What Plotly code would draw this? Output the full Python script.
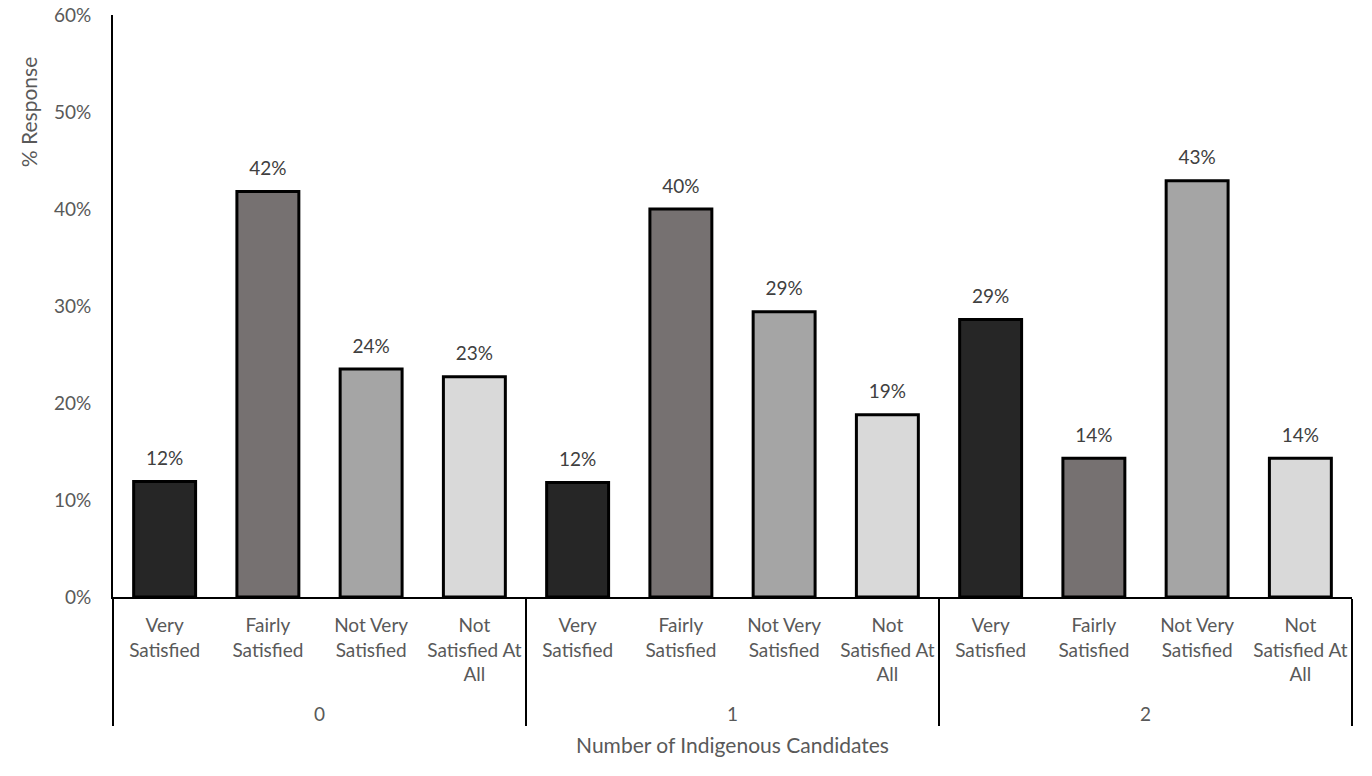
import plotly.graph_objects as go

groups = ["0", "1", "2"]
categories = ["Very<br>Satisfied", "Fairly<br>Satisfied", "Not Very<br>Satisfied", "Not<br>Satisfied At<br>All<br> "]
values = {
    "0": [0.119, 0.418, 0.235, 0.227],
    "1": [0.118, 0.400, 0.294, 0.188],
    "2": [0.286, 0.143, 0.429, 0.143],
}
colors = ["#262626", "#767171", "#A5A5A5", "#D9D9D9"]

xg, xc, yv, cv = [], [], [], []
for g in groups:
    for i, c in enumerate(categories):
        xg.append(g)
        xc.append(c)
        yv.append(values[g][i])
        cv.append(colors[i])

FONT = "Lato, Carlito, Calibri, sans-serif"
fig = go.Figure()
fig.add_trace(go.Bar(
    x=[xg, xc], y=yv,
    marker=dict(color=cv, line=dict(color="#000000", width=3)),
    hoverinfo="skip",
))
fig.add_trace(go.Scatter(
    x=[xg, xc], y=yv, mode="markers+text",
    marker=dict(size=17, color="rgba(0,0,0,0)"),
    text=[f"{v:.0%}" for v in yv], textposition="top center",
    textfont=dict(color="#404040", size=19, family=FONT),
    cliponaxis=False, hoverinfo="skip",
))
fig.update_layout(
    width=1372, height=776,
    margin=dict(l=113, r=20, t=15, b=179, autoexpand=False),
    plot_bgcolor="white", paper_bgcolor="white",
    bargap=0.4, showlegend=False,
    font=dict(family=FONT, size=19, color="#595959"),
    xaxis=dict(
        type="multicategory", range=[-0.5, len(groups) * len(categories) - 0.5],
        showline=True, linecolor="#000000", linewidth=2,
        showgrid=False, ticks="", ticklabelstandoff=10,
        showdividers=True, dividercolor="#000000", dividerwidth=2, tickangle=0,
        tickfont=dict(size=19, color="#595959"), automargin=False,
        title=dict(text="Number of Indigenous Candidates", font=dict(size=21, color="#595959"), standoff=14),
    ),
    yaxis=dict(
        range=[0, 0.6], dtick=0.1, tickformat=".0%", showgrid=False, zeroline=False,
        showline=True, linecolor="#000000", linewidth=2,
        ticks="outside", ticklen=16, tickcolor="rgba(0,0,0,0)",
        tickfont=dict(size=19, color="#595959"), automargin=False,
    ),
    annotations=[dict(
        text="% Response", textangle=-90, xref="paper", yref="paper",
        x=-0.0686, y=0.833, showarrow=False, font=dict(size=21, color="#595959"),
        xanchor="center", yanchor="middle",
    )],
)
fig.write_html("out.html")
